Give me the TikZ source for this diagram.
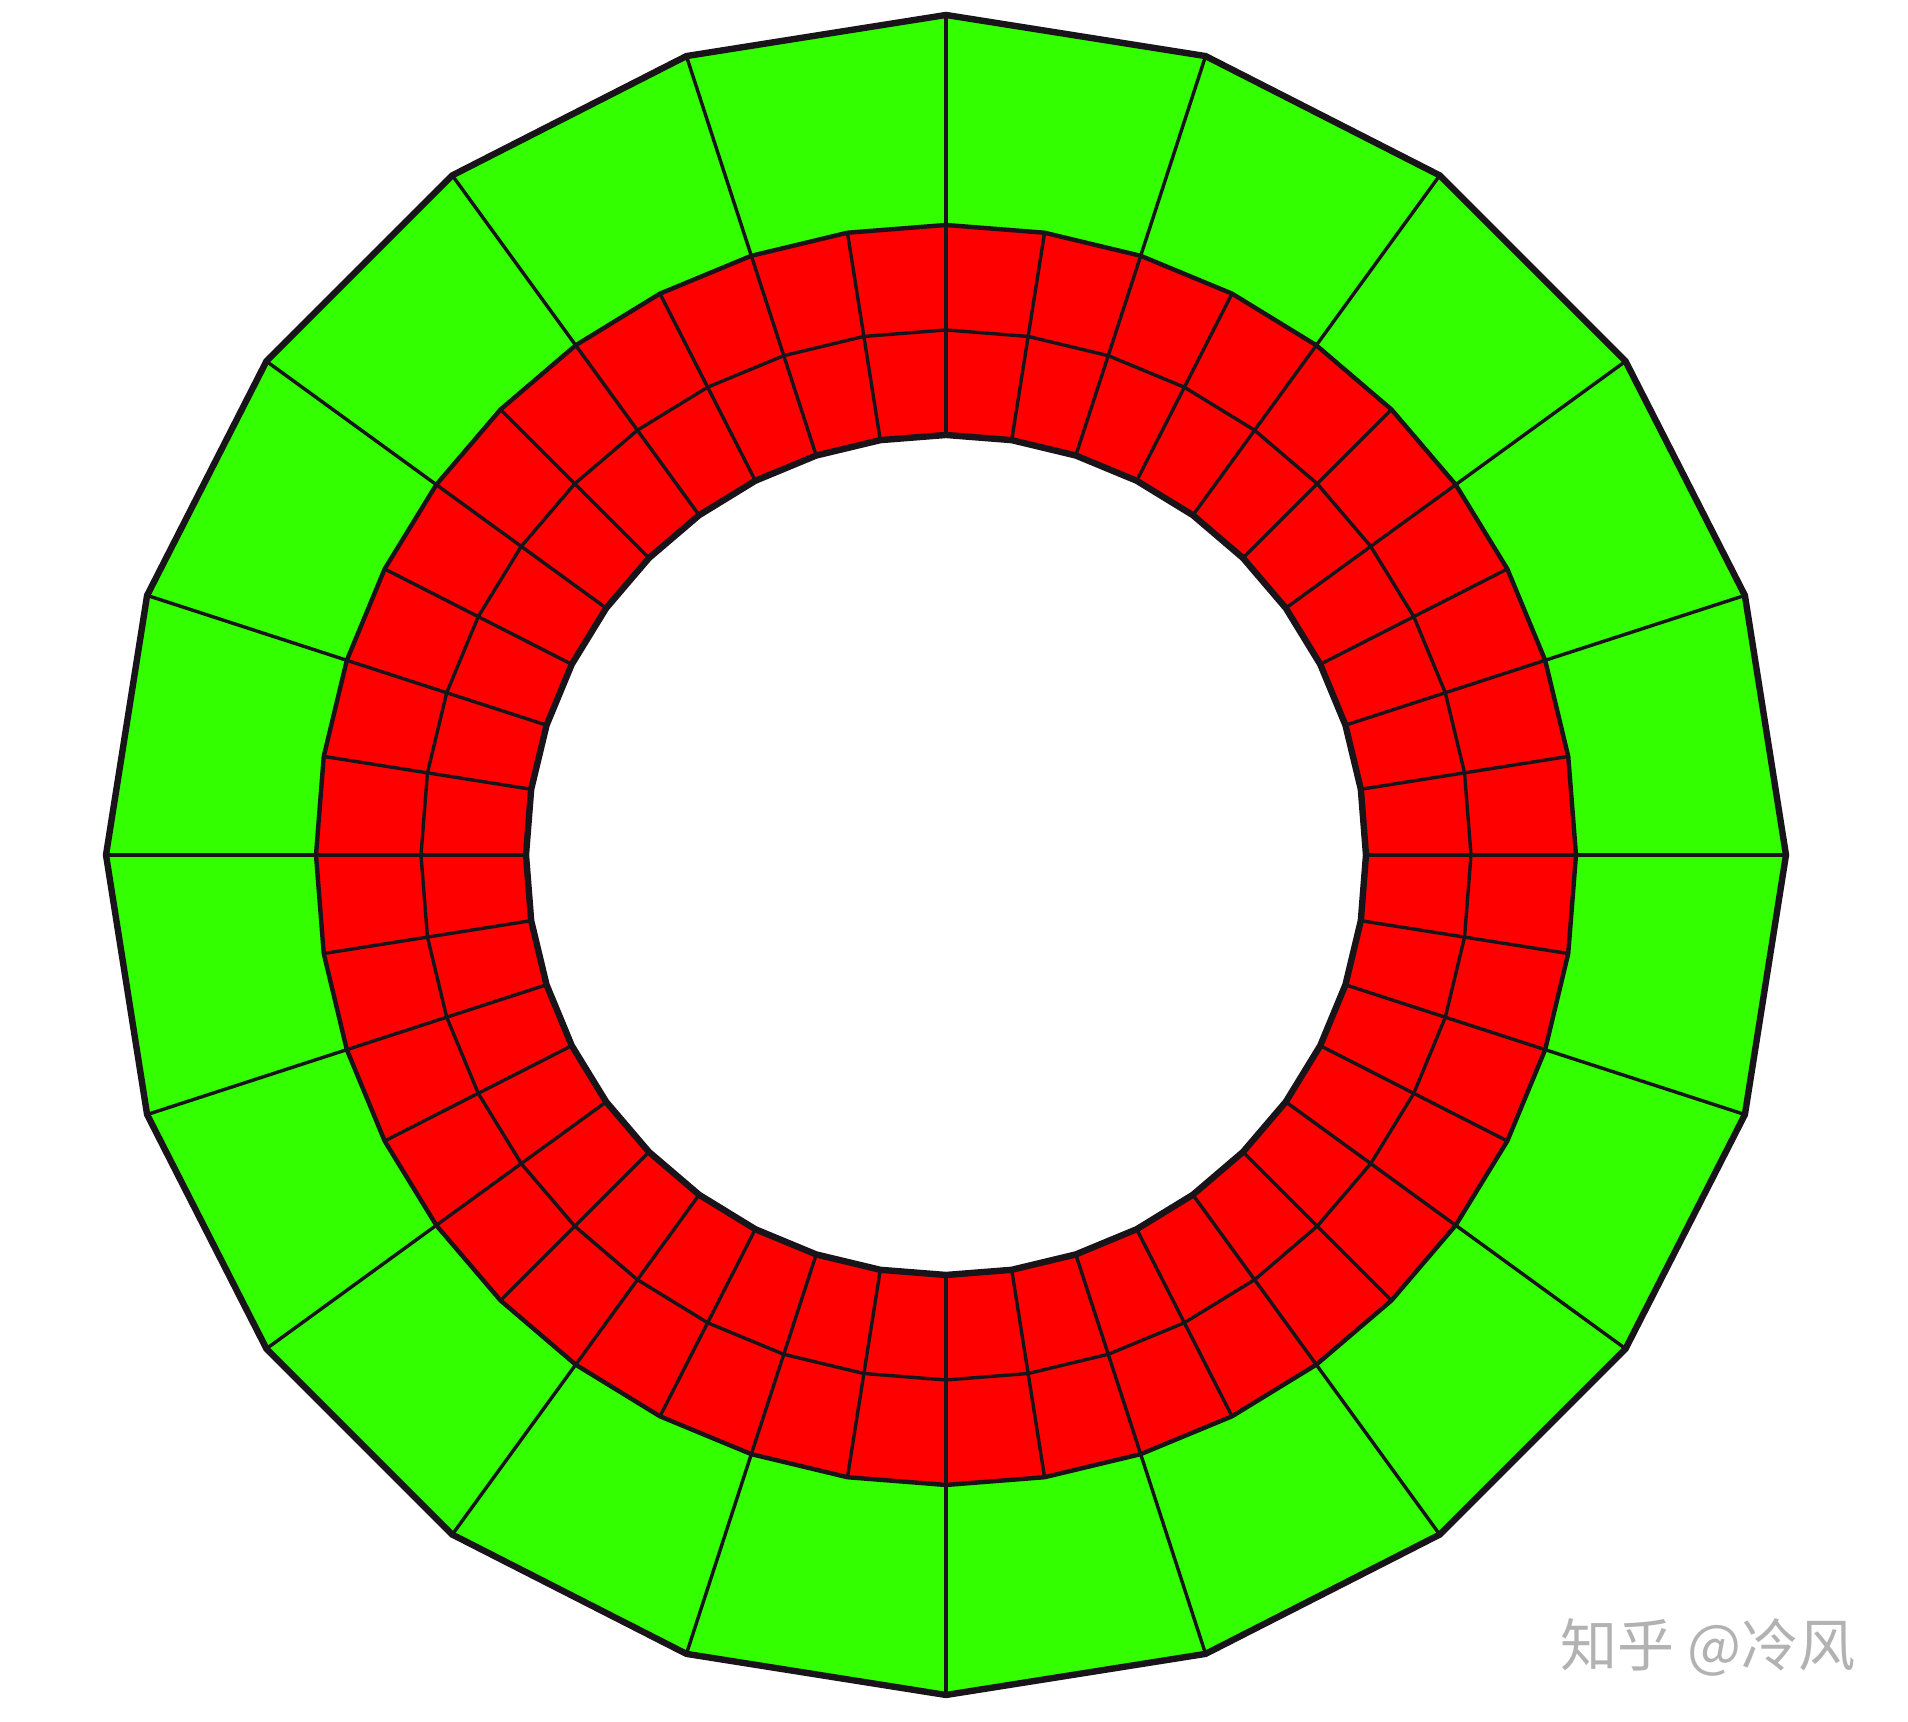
\documentclass[tikz,border=0pt]{standalone}
\usepackage{fontspec}
\newfontfamily\cjk{Noto Sans CJK SC}
\definecolor{ringgreen}{RGB}{51,255,0}
\definecolor{ringred}{RGB}{255,0,0}
\definecolor{markgray}{RGB}{178,178,178}
\begin{document}
\begin{tikzpicture}[x=0.5pt,y=0.5pt,
  thickline/.style={line width=3.2pt},
  midline/.style={line width=2.2pt},
  thinline/.style={line width=1.7pt},
  linecol/.style={draw={rgb,255:red,25;green,20;blue,25}}]
\useasboundingbox (0,0) rectangle (1908,1722);
\begin{scope}[shift={(946,867)}]
  % fills
  \fill[ringgreen] (0:840) \foreach \a in {18,36,...,342} {-- (\a:840)} -- cycle;
  \fill[ringred] (0:630) \foreach \a in {9,18,...,351} {-- (\a:630)} -- cycle;
  \fill[white] (0:420) \foreach \a in {9,18,...,351} {-- (\a:420)} -- cycle;
  % green radial lines
  \foreach \a in {0,18,...,342} {\draw[thinline,linecol] (\a:840) -- (\a:630);}
  % red radial lines
  \foreach \a in {0,9,...,351} {\draw[thinline,linecol] (\a:630) -- (\a:420);}
  % middle red polygon
  \draw[thinline,linecol] (0:525) \foreach \a in {9,18,...,351} {-- (\a:525)} -- cycle;
  % green/red boundary
  \draw[midline,linecol] (0:630) \foreach \a in {9,18,...,351} {-- (\a:630)} -- cycle;
  % inner boundary
  \draw[thickline,linecol] (0:420) \foreach \a in {9,18,...,351} {-- (\a:420)} -- cycle;
  % outer boundary
  \draw[thickline,linecol] (0:840) \foreach \a in {18,36,...,342} {-- (\a:840)} -- cycle;
\end{scope}
\node[anchor=west,inner sep=0pt,text=markgray,font=\cjk\fontsize{28.5}{28.5}\selectfont] (mark) at (1560,75) {知乎 @冷风};
\end{tikzpicture}
\end{document}
